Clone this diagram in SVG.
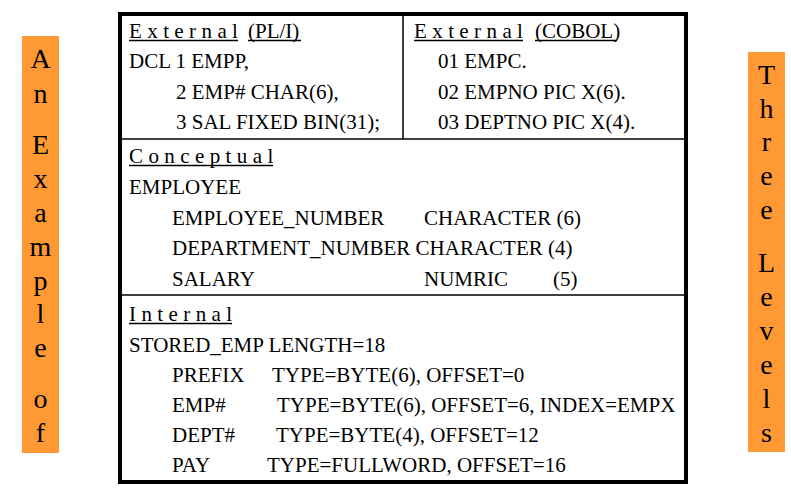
<svg xmlns="http://www.w3.org/2000/svg" width="791" height="490" viewBox="0 0 791 490" font-family="Liberation Serif, Tinos, Times New Roman, serif">
<style>
.t{font-size:21px;fill:#000}
.h{letter-spacing:5.4px}
.v{font-size:28px;fill:#000;text-anchor:middle}
.ul{stroke:#000;stroke-width:1.3}
.thin{stroke:#000;stroke-width:1.5;fill:none}
.side{fill:#FF9933}
</style>
<rect width="791" height="490" fill="#fff"/>
<g id="left-label">
<rect class="side" x="22" y="36" width="37" height="417"/>
<text class="v" x="40.5" y="68">A</text>
<text class="v" x="40.5" y="103">n</text>
<text class="v" x="40.5" y="154">E</text>
<text class="v" x="40.5" y="188">x</text>
<text class="v" x="40.5" y="222">a</text>
<text class="v" x="40.5" y="256">m</text>
<text class="v" x="40.5" y="290">p</text>
<text class="v" x="40.5" y="323">l</text>
<text class="v" x="40.5" y="357">e</text>
<text class="v" x="40.5" y="408">o</text>
<text class="v" x="40.5" y="442">f</text>
</g>
<g id="right-label">
<rect class="side" x="748" y="52" width="37" height="400"/>
<text class="v" x="766.5" y="84">T</text>
<text class="v" x="766.5" y="118">h</text>
<text class="v" x="766.5" y="151">r</text>
<text class="v" x="766.5" y="185">e</text>
<text class="v" x="766.5" y="219">e</text>
<text class="v" x="766.5" y="272">L</text>
<text class="v" x="766.5" y="306">e</text>
<text class="v" x="766.5" y="340">v</text>
<text class="v" x="766.5" y="374">e</text>
<text class="v" x="766.5" y="408">l</text>
<text class="v" x="766.5" y="442">s</text>
</g>
<g id="table">
<rect x="120" y="14" width="566" height="468" fill="none" stroke="#000" stroke-width="4"/>
<line class="thin" x1="403" y1="14" x2="403" y2="139"/>
<line class="thin" x1="120" y1="139" x2="686" y2="139"/>
<line class="thin" x1="120" y1="295" x2="686" y2="295"/>
</g>
<g id="external-pli">
<text class="t h" x="129" y="38">External</text>
<text class="t" x="248" y="38">(PL/I)</text>
<line class="ul" x1="129" y1="40.5" x2="238" y2="40.5"/>
<line class="ul" x1="248" y1="40.5" x2="301" y2="40.5"/>
<text class="t" x="129" y="68">DCL 1 EMPP,</text>
<text class="t" x="176" y="99">2 EMP# CHAR(6),</text>
<text class="t" x="176" y="129">3 SAL FIXED BIN(31);</text>
</g>
<g id="external-cobol">
<text class="t h" x="414" y="38">External</text>
<text class="t" x="535" y="38">(COBOL)</text>
<line class="ul" x1="414" y1="40.5" x2="523" y2="40.5"/>
<line class="ul" x1="535" y1="40.5" x2="617" y2="40.5"/>
<text class="t" x="438" y="68">01 EMPC.</text>
<text class="t" x="438" y="99">02 EMPNO PIC X(6).</text>
<text class="t" x="438" y="129">03 DEPTNO PIC X(4).</text>
</g>
<g id="conceptual">
<text class="t h" x="129" y="163">Conceptual</text>
<line class="ul" x1="129" y1="165.5" x2="273" y2="165.5"/>
<text class="t" x="129" y="194">EMPLOYEE</text>
<text class="t" x="172" y="225">EMPLOYEE_NUMBER</text>
<text class="t" x="424" y="225">CHARACTER (6)</text>
<text class="t" x="172" y="255">DEPARTMENT_NUMBER CHARACTER (4)</text>
<text class="t" x="172" y="286">SALARY</text>
<text class="t" x="424" y="286">NUMRIC</text>
<text class="t" x="553" y="286">(5)</text>
</g>
<g id="internal">
<text class="t h" x="129" y="321">Internal</text>
<line class="ul" x1="129" y1="323.5" x2="232" y2="323.5"/>
<text class="t" x="129" y="352">STORED_EMP LENGTH=18</text>
<text class="t" x="172" y="382">PREFIX</text>
<text class="t" x="272" y="382">TYPE=BYTE(6), OFFSET=0</text>
<text class="t" x="172" y="412">EMP#</text>
<text class="t" x="277" y="412">TYPE=BYTE(6), OFFSET=6, INDEX=EMPX</text>
<text class="t" x="172" y="442">DEPT#</text>
<text class="t" x="276" y="442">TYPE=BYTE(4), OFFSET=12</text>
<text class="t" x="172" y="472">PAY</text>
<text class="t" x="267" y="472">TYPE=FULLWORD, OFFSET=16</text>
</g>
</svg>
